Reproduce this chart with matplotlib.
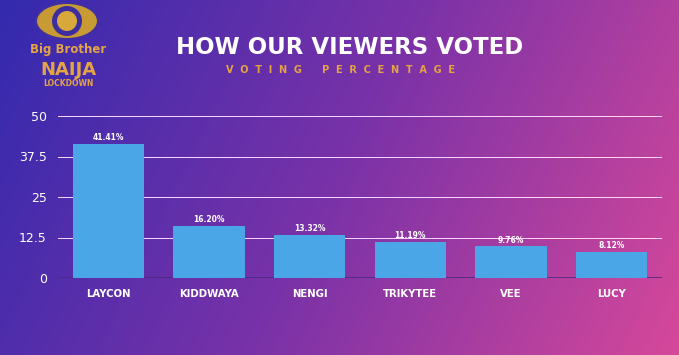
import numpy as np
import matplotlib as mpl
mpl.use("Agg")
import matplotlib.pyplot as plt
from matplotlib.patches import Ellipse

names = ["LAYCON", "KIDDWAYA", "NENGI", "TRIKYTEE", "VEE", "LUCY"]
votes = [41.41, 16.20, 13.32, 11.19, 9.76, 8.12]
yticks = [0, 12.5, 25, 37.5, 50]
ytick_labels = ["0", "12.5", "25", "37.5", "50"]

BAR = "#4aa6e6"
GOLD = "#e4a444"

W, H = 679, 355
fig = plt.figure(figsize=(W / 100, H / 100), dpi=100)

# gradient background: blue on the left, pink towards bottom right
bg = fig.add_axes([0, 0, 1, 1], zorder=-10)
xx, yy = np.meshgrid(np.linspace(0, 1, 300), np.linspace(0, 1, 160))
t = np.clip(0.8 * xx + 0.2 * yy, 0, 1)[..., None]
c0 = np.array([0x33, 0x2a, 0xae]) / 255
c1 = np.array([0x7a, 0x32, 0xa8]) / 255
c2 = np.array([0xd6, 0x48, 0x9a]) / 255
img = np.where(t < 0.5, c0 + (c1 - c0) * (t / 0.5), c1 + (c2 - c1) * ((t - 0.5) / 0.5))
bg.imshow(img, aspect="auto", extent=[0, W, H, 0], origin="upper")
bg.set_xlim(0, W)
bg.set_ylim(H, 0)
bg.axis("off")

# logo approximation
bg.add_patch(Ellipse((67, 21), 62, 36, facecolor="#c89a34", edgecolor="#4030a0", lw=1.5))
bg.add_patch(Ellipse((67, 21), 30, 30, facecolor="#3c2ea0", edgecolor="none"))
bg.add_patch(Ellipse((67, 21), 20, 20, facecolor="#d8a83c", edgecolor="none"))
bg.text(68, 49, "Big Brother", color=GOLD, fontsize=8.5, fontweight="bold",
        ha="center", va="center", family="Liberation Sans Narrow")
bg.text(68, 70, "NAIJA", color=GOLD, fontsize=13, fontweight="bold",
        ha="center", va="center", family="DejaVu Sans")
bg.text(68, 83, "LOCKDOWN", color=GOLD, fontsize=5.5, fontweight="bold",
        ha="center", va="center")

# titles
bg.text(350, 47, "HOW OUR VIEWERS VOTED", color="white", fontsize=16.5,
        fontweight="bold", ha="center", va="center", family="DejaVu Sans")
bg.text(340, 70, "  ".join("VOTING") + "      " + "  ".join("PERCENTAGE"),
        color=GOLD, fontsize=7, fontweight="bold", ha="center", va="center")

ax = fig.add_axes([58 / W, 1 - 278 / H, (662 - 58) / W, (278 - 116) / H])
ax.patch.set_alpha(0)
x = np.arange(len(names))
ax.bar(x, votes, width=0.71, color=BAR, zorder=3)
for xi, v in zip(x, votes):
    ax.text(xi, v + 0.5, f"{v:.2f}%", color="white", fontsize=5.5, fontweight="bold",
            ha="center", va="bottom", zorder=4)

ax.set_xlim(-0.5, 5.5)
ax.set_ylim(0, 50)
ax.set_yticks(yticks)
ax.set_yticklabels(ytick_labels)
ax.set_xticks(x)
ax.set_xticklabels(names, fontweight="bold")
ax.tick_params(axis="both", length=0, colors="white")
ax.tick_params(axis="y", labelsize=9, pad=8)
ax.tick_params(axis="x", labelsize=7.3, pad=8)
ax.grid(axis="y", color=(1, 0.85, 1, 0.2), lw=0.7, zorder=1)
ax.axhline(0, color="#4a2a80", lw=1.2, zorder=2)
for s in ax.spines.values():
    s.set_visible(False)

fig.savefig("out.png", dpi=100)
